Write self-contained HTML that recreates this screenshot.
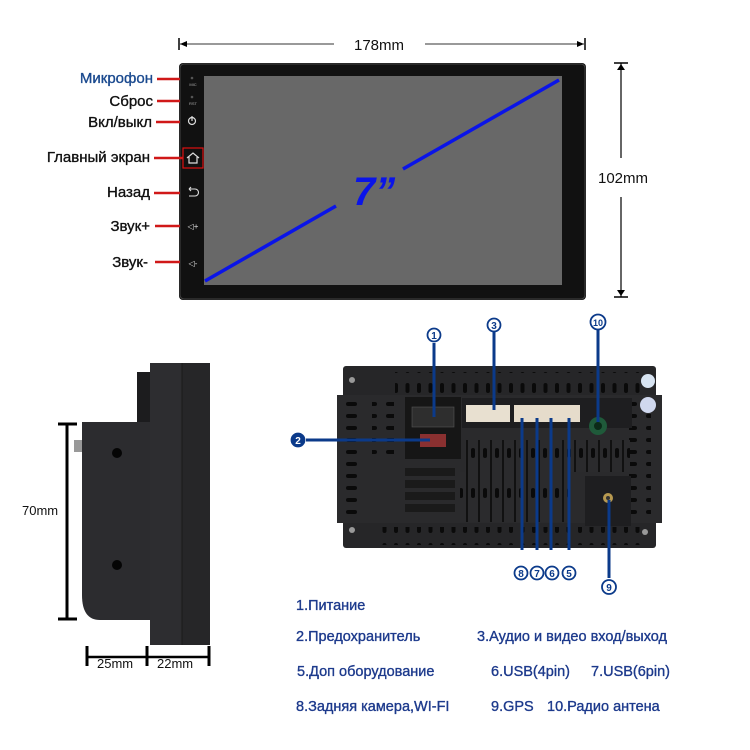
<!DOCTYPE html>
<html><head><meta charset="utf-8"><style>
html,body{margin:0;padding:0;background:#fff;}
svg{display:block;}
text{font-family:"Liberation Sans","DejaVu Sans",sans-serif;}
</style></head><body>
<svg width="750" height="750" viewBox="0 0 750 750" xmlns="http://www.w3.org/2000/svg">
<defs>
<pattern id="vh" x="0" y="0" width="11.5" height="20" patternUnits="userSpaceOnUse"><rect x="3" y="3" width="4" height="10" rx="2" fill="#0a0a0a"/></pattern>
<pattern id="vv" x="343" y="398" width="20" height="12" patternUnits="userSpaceOnUse"><rect x="3" y="4" width="11" height="4" rx="2" fill="#0a0a0a"/></pattern>
<pattern id="fin" x="0" y="0" width="12" height="40" patternUnits="userSpaceOnUse"><rect x="0" y="0" width="10" height="40" fill="#2b2b2d"/><rect x="10" y="0" width="2" height="40" fill="#111"/><rect x="3" y="8" width="4" height="10" rx="2" fill="#0a0a0a"/></pattern>
</defs>

<!-- top dimension -->
<line x1="180" y1="44" x2="334" y2="44" stroke="#333" stroke-width="1"/>
<line x1="425" y1="44" x2="584" y2="44" stroke="#333" stroke-width="1"/>
<line x1="179" y1="38" x2="179" y2="50" stroke="#000" stroke-width="1.5"/>
<line x1="585" y1="38" x2="585" y2="50" stroke="#000" stroke-width="1.5"/>
<polygon points="180,44 187,41 187,47" fill="#000"/>
<polygon points="584,44 577,41 577,47" fill="#000"/>
<text x="379" y="50" font-size="15" text-anchor="middle" fill="#111">178mm</text>

<!-- right dimension -->
<line x1="621" y1="63" x2="621" y2="158" stroke="#000" stroke-width="1.2"/>
<line x1="621" y1="197" x2="621" y2="297" stroke="#000" stroke-width="1.2"/>
<line x1="614" y1="63" x2="628" y2="63" stroke="#000" stroke-width="1.5"/>
<line x1="614" y1="297" x2="628" y2="297" stroke="#000" stroke-width="1.5"/>
<polygon points="621,64 617,70 625,70" fill="#000"/>
<polygon points="621,296 617,290 625,290" fill="#000"/>
<text x="623" y="183" font-size="15" text-anchor="middle" fill="#111">102mm</text>

<!-- front unit -->
<rect x="179" y="63" width="407" height="237" rx="4" fill="#111"/>
<rect x="180" y="64" width="405" height="235" rx="4" fill="none" stroke="#444" stroke-width="1"/>
<rect x="204" y="76" width="358" height="209" fill="#686868"/>
<line x1="205" y1="281" x2="336" y2="206" stroke="#0a14e8" stroke-width="3.5"/>
<line x1="403" y1="169" x2="559" y2="80" stroke="#0a14e8" stroke-width="3.5"/>
<text x="353" y="205" font-size="40" font-weight="bold" font-style="italic" fill="#0a14e8">7”</text>

<!-- side buttons -->
<circle cx="192" cy="78" r="1.3" fill="#555"/><text x="193" y="86" font-size="4" fill="#aaa" text-anchor="middle">MIC</text>
<circle cx="192" cy="97" r="1.3" fill="#555"/><text x="193" y="105" font-size="4" fill="#aaa" text-anchor="middle">RST</text>
<circle cx="192" cy="121" r="3.5" fill="none" stroke="#ddd" stroke-width="1.2"/><line x1="192" y1="116" x2="192" y2="121" stroke="#ddd" stroke-width="1.2"/>
<rect x="183" y="148" width="20" height="20" fill="none" stroke="#d11" stroke-width="1.2"/>
<path d="M187 158 L193 153 L199 158 M189 157 V163 H197 V157" fill="none" stroke="#ddd" stroke-width="1.2"/>
<path d="M189 189 H195 A3 3 0 0 1 195 196 H189 M189 189 l2 -2 M189 189 l2 2" fill="none" stroke="#ddd" stroke-width="1.1"/>
<text x="193" y="229" font-size="8" fill="#ddd" text-anchor="middle">◁+</text>
<text x="193" y="266" font-size="8" fill="#ddd" text-anchor="middle">◁-</text>

<!-- labels -->
<g font-size="15" fill="#111" text-anchor="end" stroke="#111" stroke-width="0.35">
<text x="153" y="83" fill="#1b4a8f" stroke="#1b4a8f">Микрофон</text>
<text x="153" y="106">Сброс</text>
<text x="152" y="127">Вкл/выкл</text>
<text x="150" y="162">Главный экран</text>
<text x="150" y="197">Назад</text>
<text x="150" y="231">Звук+</text>
<text x="148" y="267">Звук-</text>
</g>
<g stroke="#d01818" stroke-width="2.5">
<line x1="157" y1="79" x2="180" y2="79"/>
<line x1="157" y1="101" x2="180" y2="101"/>
<line x1="156" y1="122" x2="180" y2="122"/>
<line x1="154" y1="158" x2="183" y2="158"/>
<line x1="154" y1="193" x2="180" y2="193"/>
<line x1="155" y1="226" x2="180" y2="226"/>
<line x1="155" y1="262" x2="180" y2="262"/>
</g>

<!-- side view -->
<rect x="137" y="372" width="14" height="50" fill="#1c1c1e"/>
<path d="M82 422 H150 V620 H100 Q82 620 82 595 Z" fill="#2c2c2f"/>
<rect x="150" y="363" width="33" height="282" fill="#2d2d30"/>
<rect x="182" y="363" width="28" height="282" fill="#262628"/>
<line x1="182" y1="363" x2="182" y2="645" stroke="#1a1a1a"/>
<circle cx="117" cy="453" r="5" fill="#050505"/>
<circle cx="117" cy="565" r="5" fill="#050505"/>
<rect x="74" y="440" width="8" height="12" fill="#999"/>
<line x1="67" y1="424" x2="67" y2="619" stroke="#000" stroke-width="3"/>
<line x1="58" y1="424" x2="77" y2="424" stroke="#000" stroke-width="3"/>
<line x1="58" y1="619" x2="77" y2="619" stroke="#000" stroke-width="3"/>
<text x="22" y="515" font-size="13" fill="#111">70mm</text>
<line x1="87" y1="657" x2="209" y2="657" stroke="#000" stroke-width="2.5"/>
<line x1="87" y1="646" x2="87" y2="666" stroke="#000" stroke-width="3"/>
<line x1="147" y1="646" x2="147" y2="666" stroke="#000" stroke-width="3"/>
<line x1="209" y1="646" x2="209" y2="666" stroke="#000" stroke-width="3"/>
<text x="97" y="668" font-size="13" fill="#111">25mm</text>
<text x="157" y="668" font-size="13" fill="#111">22mm</text>

<!-- back view -->
<rect x="343" y="366" width="313" height="182" rx="3" fill="#262628"/>
<rect x="337" y="395" width="325" height="128" fill="#2a2a2c"/>
<rect x="395" y="372" width="245" height="26" fill="url(#vh)"/>
<rect x="382" y="527" width="260" height="18" fill="url(#vh)"/>
<rect x="343" y="398" width="22" height="120" fill="url(#vv)"/>
<rect x="629" y="398" width="22" height="120" fill="url(#vv)"/>
<rect x="372" y="400" width="22" height="60" fill="url(#vv)"/>
<circle cx="352" cy="380" r="3" fill="#999"/><circle cx="352" cy="530" r="3" fill="#999"/><circle cx="645" cy="532" r="3" fill="#999"/>
<circle cx="648" cy="381" r="7" fill="#d8e4f2"/><circle cx="648" cy="405" r="8" fill="#d0d8ee"/>
<rect x="405" y="397" width="56" height="62" fill="#161616"/>
<rect x="412" y="407" width="42" height="20" fill="#2e2e2e" stroke="#555" stroke-width="0.6"/>
<rect x="420" y="434" width="26" height="13" fill="#8a3030"/>
<rect x="462" y="398" width="170" height="30" fill="#1e1e20"/>
<rect x="466" y="405" width="44" height="17" fill="#e8e0d0"/>
<rect x="514" y="405" width="66" height="17" fill="#e6dccb"/>
<circle cx="598" cy="426" r="9" fill="#1f5a3a"/><circle cx="598" cy="426" r="4" fill="#0b2a18"/>
<rect x="465" y="440" width="165" height="32" fill="url(#fin)"/>
<rect x="460" y="472" width="110" height="50" fill="url(#fin)"/>
<rect x="585" y="476" width="46" height="50" fill="#1e1e20"/>
<circle cx="608" cy="498" r="5" fill="#b89a50"/><circle cx="608" cy="498" r="2" fill="#333"/>
<rect x="405" y="468" width="50" height="8" fill="#1a1a1a"/><rect x="405" y="480" width="50" height="8" fill="#1a1a1a"/><rect x="405" y="492" width="50" height="8" fill="#1a1a1a"/><rect x="405" y="504" width="50" height="8" fill="#1a1a1a"/>

<g stroke="#0b3a8a" stroke-width="3" fill="none">
<line x1="434" y1="343" x2="434" y2="417"/>
<line x1="306" y1="440" x2="430" y2="440"/>
<line x1="494" y1="332" x2="494" y2="410"/>
<line x1="598" y1="330" x2="598" y2="422"/>
<line x1="522" y1="418" x2="522" y2="550"/>
<line x1="537" y1="418" x2="537" y2="550"/>
<line x1="551" y1="418" x2="551" y2="550"/>
<line x1="569" y1="418" x2="569" y2="550"/>
<line x1="609" y1="500" x2="609" y2="578"/>
</g>
<g stroke="#0b3a8a" stroke-width="1.8" fill="#fff" font-size="10" font-weight="bold" text-anchor="middle">
<circle cx="434" cy="335" r="6.5"/><text x="434" y="339" fill="#0b3a8a" stroke="none">1</text>
<circle cx="298" cy="440" r="6.5" fill="#0b3a8a"/><text x="298" y="444" fill="#fff" stroke="none">2</text>
<circle cx="494" cy="325" r="6.5"/><text x="494" y="329" fill="#0b3a8a" stroke="none">3</text>
<circle cx="598" cy="322" r="7.5"/><text x="598" y="326" fill="#0b3a8a" stroke="none" font-size="9">10</text>
<circle cx="521" cy="573" r="6.5"/><text x="521" y="577" fill="#0b3a8a" stroke="none">8</text>
<circle cx="537" cy="573" r="6.5"/><text x="537" y="577" fill="#0b3a8a" stroke="none">7</text>
<circle cx="552" cy="573" r="6.5"/><text x="552" y="577" fill="#0b3a8a" stroke="none">6</text>
<circle cx="569" cy="573" r="6.5"/><text x="569" y="577" fill="#0b3a8a" stroke="none">5</text>
<circle cx="609" cy="587" r="7"/><text x="609" y="591" fill="#0b3a8a" stroke="none">9</text>
</g>

<!-- legend -->
<g font-size="14.5" fill="#1d3a8c" stroke="#1d3a8c" stroke-width="0.35">
<text x="296" y="610">1.Питание</text>
<text x="296" y="641">2.Предохранитель</text>
<text x="477" y="641">3.Аудио и видео вход/выход</text>
<text x="297" y="676">5.Доп оборудование</text>
<text x="491" y="676">6.USB(4pin)</text>
<text x="591" y="676">7.USB(6pin)</text>
<text x="296" y="711">8.Задняя камера,WI-FI</text>
<text x="491" y="711">9.GPS</text>
<text x="547" y="711">10.Радио антена</text>
</g>
</svg>
</body></html>
